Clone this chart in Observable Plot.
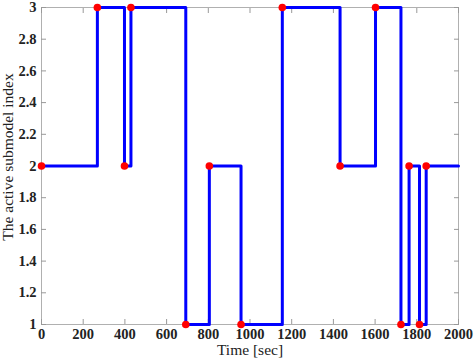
<!DOCTYPE html>
<html><head><meta charset="utf-8">
<script src="https://cdn.jsdelivr.net/npm/d3@7"></script>
<script src="https://cdn.jsdelivr.net/npm/@observablehq/plot@0.6"></script>
<style>body{margin:0;background:#fff}</style>
</head><body><div id="chart"></div>
<script>
const switchTimes = [0, 268, 398, 429, 692, 805, 957, 1155, 1432, 1602, 1724, 1763, 1813, 1845];
const switchModels = [2, 3, 2, 3, 1, 2, 1, 3, 2, 3, 1, 2, 1, 2];
const endTime = 2000;
const xTicks = [0, 200, 400, 600, 800, 1000, 1200, 1400, 1600, 1800, 2000];
const yTicks = [1, 1.2, 1.4, 1.6, 1.8, 2, 2.2, 2.4, 2.6, 2.8, 3];
const yTickLabels = ["1", "1.2", "1.4", "1.6", "1.8", "2", "2.2", "2.4", "2.6", "2.8", "3"];
const xLabel = "Time [sec]";
const yLabel = "The active submodel index";

const points = switchTimes.map((t, i) => ({t, m: switchModels[i]}));
const linePts = points.concat([{t: endTime, m: switchModels[switchModels.length - 1]}]);

const chart = Plot.plot({
  width: 474, height: 364,
  marginLeft: 41, marginRight: 16, marginTop: 7, marginBottom: 40,
  style: {fontFamily: "'Liberation Serif', serif", fontSize: "14px", color: "#222", background: "#fff"},
  x: {domain: [0, 2000]},
  y: {domain: [1, 3]},
  marks: [
    Plot.frame({stroke: "#b0b0b0"}),
    Plot.axisX(xTicks, {anchor: "bottom", tickSize: -5, stroke: "#999", text: null, label: null}),
    Plot.axisX(xTicks, {anchor: "top", tickSize: -5, stroke: "#999", text: null, label: null}),
    Plot.axisY(yTicks, {anchor: "left", tickSize: -5, stroke: "#999", text: null, label: null}),
    Plot.axisY(yTicks, {anchor: "right", tickSize: -5, stroke: "#999", text: null, label: null}),
    Plot.axisX(xTicks, {anchor: "bottom", tickSize: 0, tickPadding: 4, fontWeight: "bold", fontSize: 14.5,
      tickFormat: (d) => String(d), label: null}),
    Plot.axisY(yTicks, {anchor: "left", tickSize: 0, tickPadding: 5, fontWeight: "bold", fontSize: 14.5,
      tickFormat: (d) => yTickLabels[yTicks.indexOf(d)], label: null}),
    Plot.text([xLabel], {frameAnchor: "bottom", dy: 26, text: (d) => d, fontSize: 15.5, lineAnchor: "middle", textAnchor: "middle", fill: "#222"}),
    Plot.text([yLabel], {frameAnchor: "left", dx: -33, dy: -9, rotate: -90, text: (d) => d, fontSize: 15.5, lineAnchor: "middle", textAnchor: "middle", fill: "#222"}),
    Plot.line(linePts, {x: "t", y: "m", curve: "step-after", stroke: "#0000ff", strokeWidth: 3}),
    Plot.dot(points, {x: "t", y: "m", r: 3.8, fill: "#ff0000", stroke: "none"})
  ]
});
document.getElementById("chart").appendChild(chart);
</script></body></html>
